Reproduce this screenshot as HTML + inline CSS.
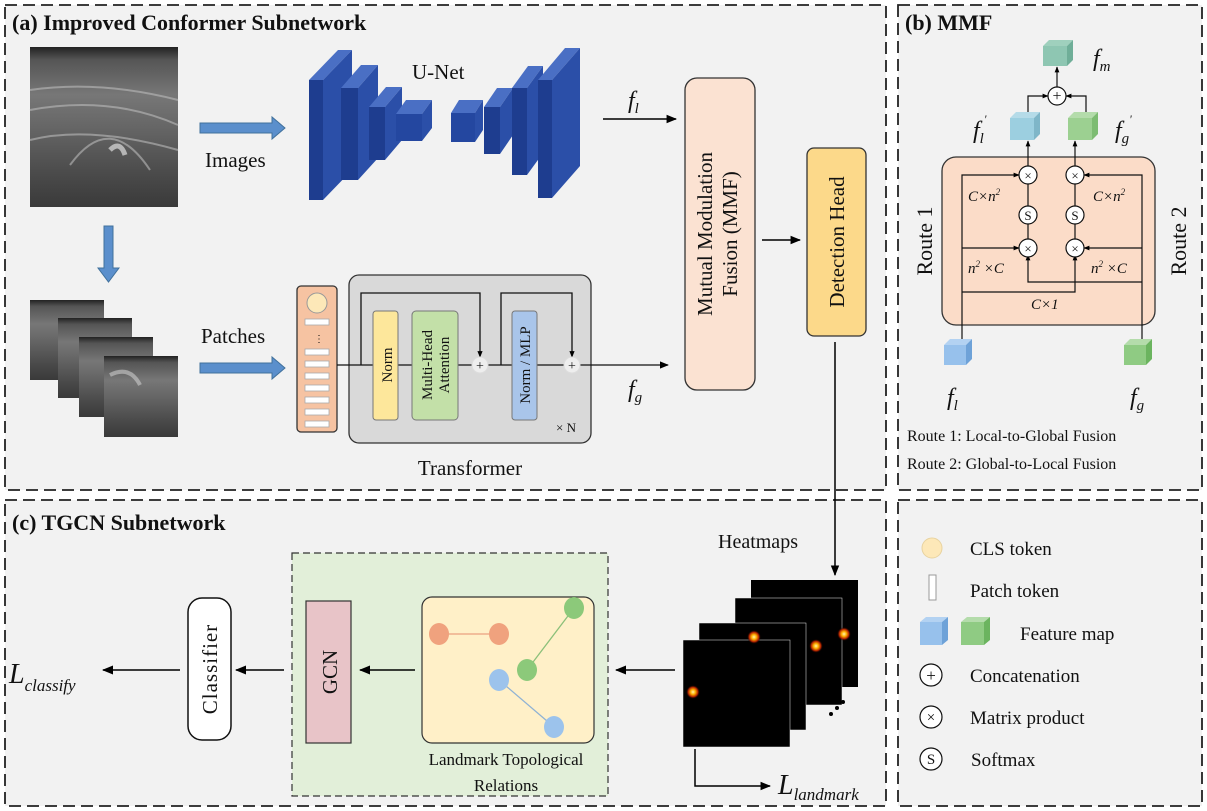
<!DOCTYPE html>
<html><head><meta charset="utf-8">
<style>
html,body{margin:0;padding:0;background:#fff;}
svg{display:block;}
text{font-family:"Liberation Serif",serif;fill:#111;}
.it{font-style:italic;}
</style></head>
<body>
<svg width="1207" height="811" viewBox="0 0 1207 811" xmlns="http://www.w3.org/2000/svg">
<defs>
<marker id="ah" viewBox="0 0 10 10" refX="9" refY="5" markerWidth="7" markerHeight="7" orient="auto-start-reverse"><path d="M0,1 L10,5 L0,9 z" fill="#000"/></marker>
<marker id="sa" viewBox="0 0 10 10" refX="9" refY="5" markerWidth="5" markerHeight="5" orient="auto"><path d="M0,1 L10,5 L0,9 z" fill="#000"/></marker>
<linearGradient id="us" x1="0" y1="0" x2="0" y2="1">
<stop offset="0" stop-color="#222"/><stop offset="0.08" stop-color="#555"/><stop offset="0.3" stop-color="#777"/><stop offset="0.5" stop-color="#666"/><stop offset="0.8" stop-color="#4a4a4a"/><stop offset="1" stop-color="#3a3a3a"/></linearGradient>
<radialGradient id="hot"><stop offset="0" stop-color="#fff6b0"/><stop offset="0.35" stop-color="#ffb000"/><stop offset="0.7" stop-color="#b02000"/><stop offset="1" stop-color="#000" stop-opacity="0"/></radialGradient>
</defs>

<g fill="#f2f2f2" stroke="#222" stroke-width="1.8" stroke-dasharray="12,6">
<rect x="5" y="5" width="881" height="485"/>
<rect x="898" y="5" width="304" height="485"/>
<rect x="5" y="500" width="881" height="306"/>
<rect x="898" y="500" width="304" height="306"/>
</g>

<text x="12" y="30" font-size="22" font-weight="bold">(a) Improved Conformer Subnetwork</text>
<text x="905" y="30" font-size="22" font-weight="bold">(b) MMF</text>
<text x="12" y="530" font-size="22" font-weight="bold">(c) TGCN Subnetwork</text>

<g>
<rect x="30" y="47" width="148" height="160" fill="url(#us)"/>
<path d="M30,90 Q100,80 178,100 M30,110 Q110,95 178,125 M30,140 Q90,125 178,150 M70,165 Q110,110 150,170" stroke="#bbb" stroke-width="2" fill="none" opacity="0.6"/>
<path d="M110,150 q10,-10 15,5" stroke="#ddd" stroke-width="5" fill="none" opacity="0.7"/>
</g>
<g>
<rect x="30" y="300" width="74" height="80" fill="url(#us)"/>
<rect x="58" y="318" width="74" height="80" fill="url(#us)"/>
<rect x="79" y="337" width="74" height="80" fill="url(#us)"/>
<rect x="104" y="356" width="74" height="81" fill="url(#us)"/>
<path d="M110,375 q20,-10 30,10" stroke="#ccc" stroke-width="4" fill="none" opacity="0.6"/>
</g>

<g fill="#5b8fcc" stroke="#41719c" stroke-width="1">
<path d="M200,123 L272,123 L272,117 L285,128 L272,139 L272,133 L200,133 z"/>
<path d="M200,363 L272,363 L272,357 L285,368 L272,379 L272,373 L200,373 z"/>
<path d="M104,226 L113,226 L113,268 L119,268 L108.5,282 L98,268 L104,268 z"/>
</g>
<text x="205" y="167" font-size="21">Images</text>
<text x="201" y="343" font-size="21">Patches</text>

<g stroke="none">
<polygon points="309,80 338,50 352,50 323,80" fill="#4a6fc4"/><polygon points="323,80 352,50 352,170 323,200" fill="#2b4fa8"/><rect x="309" y="80" width="14" height="120" fill="#1e3d8f"/>
<polygon points="341,88 361,65 378,65 358,88" fill="#4a6fc4"/><polygon points="358,88 378,65 378,158 358,180" fill="#2b4fa8"/><rect x="341" y="88" width="17" height="92" fill="#1e3d8f"/>
<polygon points="369,107 386,87 402,87 385,107" fill="#4a6fc4"/><polygon points="385,107 402,87 402,140 385,160" fill="#2b4fa8"/><rect x="369" y="107" width="16" height="53" fill="#1e3d8f"/>
<polygon points="396,114 406,100 432,100 422,114" fill="#4a6fc4"/><polygon points="422,114 432,100 432,128 422,141" fill="#2b4fa8"/><rect x="396" y="114" width="26" height="27" fill="#2447a0"/>
<polygon points="451,113 459,100 483,100 475,113" fill="#4a6fc4"/><polygon points="475,113 483,100 483,130 475,142" fill="#2b4fa8"/><rect x="451" y="113" width="24" height="29" fill="#2447a0"/>
<polygon points="484,107 497,88 513,88 500,107" fill="#4a6fc4"/><polygon points="500,107 513,88 513,135 500,154" fill="#2b4fa8"/><rect x="484" y="107" width="16" height="47" fill="#1e3d8f"/>
<polygon points="512,88 528,66 543,66 527,88" fill="#4a6fc4"/><polygon points="527,88 543,66 543,153 527,175" fill="#2b4fa8"/><rect x="512" y="88" width="15" height="87" fill="#1e3d8f"/>
<polygon points="538,80 565,48 580,48 552,80" fill="#4a6fc4"/><polygon points="552,80 580,48 580,166 552,198" fill="#2b4fa8"/><rect x="538" y="80" width="14" height="118" fill="#1e3d8f"/>
</g>
<text x="412" y="79" font-size="21">U-Net</text>

<rect x="297" y="286" width="40" height="146" rx="4" fill="#f6c3a2" stroke="#333" stroke-width="1.3"/>
<circle cx="317" cy="303" r="10" fill="#fde8b8" stroke="#999"/>
<text x="314" y="342" font-size="10">⋮</text>
<g fill="#fff" stroke="#aaa" stroke-width="0.8">
<rect x="305" y="319" width="24" height="6"/>
<rect x="305" y="349" width="24" height="6"/><rect x="305" y="361" width="24" height="6"/><rect x="305" y="373" width="24" height="6"/><rect x="305" y="385" width="24" height="6"/><rect x="305" y="397" width="24" height="6"/><rect x="305" y="409" width="24" height="6"/><rect x="305" y="421" width="24" height="6"/>
</g>

<rect x="349" y="275" width="242" height="168" rx="10" fill="#d9d9d9" stroke="#333" stroke-width="1.3"/>
<g stroke="#111" stroke-width="1.3" fill="none">
<line x1="337" y1="365" x2="473" y2="365"/>
<line x1="487" y1="365" x2="565" y2="365"/>
<line x1="579" y1="365" x2="668" y2="365" marker-end="url(#ah)"/>
<polyline points="361,365 361,293 480,293 480,357" marker-end="url(#sa)"/>
<polyline points="501,365 501,293 572,293 572,357" marker-end="url(#sa)"/>
</g>
<rect x="373" y="311" width="25" height="109" rx="3" fill="#fde79b" stroke="#777"/>
<rect x="412" y="311" width="46" height="109" rx="4" fill="#c3e0a8" stroke="#777"/>
<rect x="512" y="311" width="25" height="109" rx="3" fill="#a9c5ea" stroke="#777"/>
<circle cx="480" cy="365" r="8" fill="#eee" stroke="#ddd"/><text x="480" y="370" font-size="14" text-anchor="middle">+</text>
<circle cx="572" cy="365" r="8" fill="#eee" stroke="#ddd"/><text x="572" y="370" font-size="14" text-anchor="middle">+</text>
<text transform="translate(392,365) rotate(-90)" font-size="15" text-anchor="middle">Norm</text>
<text transform="translate(432,365) rotate(-90)" font-size="15" text-anchor="middle">Multi-Head</text>
<text transform="translate(449,365) rotate(-90)" font-size="15" text-anchor="middle">Attention</text>
<text transform="translate(530,365) rotate(-90)" font-size="15" text-anchor="middle">Norm / MLP</text>
<text x="556" y="432" font-size="13" fill="#333">× N</text>
<text x="470" y="475" font-size="21" text-anchor="middle">Transformer</text>

<line x1="603" y1="119" x2="676" y2="119" stroke="#000" stroke-width="1.5" marker-end="url(#ah)"/>
<text x="628" y="108" font-size="24" class="it">f<tspan font-size="15" dy="5">l</tspan></text>
<text x="628" y="397" font-size="24" class="it">f<tspan font-size="15" dy="5">g</tspan></text>

<rect x="685" y="78" width="70" height="312" rx="12" fill="#fbe2d2" stroke="#333" stroke-width="1.3"/>
<text transform="translate(712,234) rotate(-90)" font-size="21" text-anchor="middle">Mutual Modulation</text>
<text transform="translate(737,234) rotate(-90)" font-size="21" text-anchor="middle">Fusion (MMF)</text>
<line x1="762" y1="240" x2="800" y2="240" stroke="#000" stroke-width="1.5" marker-end="url(#ah)"/>
<rect x="807" y="148" width="59" height="188" rx="7" fill="#fcd98a" stroke="#333" stroke-width="1.3"/>
<text transform="translate(844,242) rotate(-90)" font-size="21" text-anchor="middle">Detection Head</text>
<line x1="835" y1="342" x2="835" y2="575" stroke="#000" stroke-width="1.5" marker-end="url(#ah)"/>

<rect x="942" y="157" width="213" height="168" rx="14" fill="#fbdcc8" stroke="#333" stroke-width="1.3"/>
<g stroke="#111" stroke-width="1.2" fill="none">
<polyline points="962,340 962,175 1019,175" marker-end="url(#sa)"/>
<line x1="962" y1="248" x2="1019" y2="248" marker-end="url(#sa)"/>
<polyline points="962,292 1075,292 1075,255" marker-end="url(#sa)"/>
<polyline points="1142,340 1142,175 1084,175" marker-end="url(#sa)"/>
<line x1="1142" y1="248" x2="1084" y2="248" marker-end="url(#sa)"/>
<polyline points="1142,282 1028,282 1028,255" marker-end="url(#sa)"/>
<line x1="1028" y1="183" x2="1028" y2="207"/><line x1="1028" y1="223" x2="1028" y2="240"/>
<line x1="1075" y1="183" x2="1075" y2="207"/><line x1="1075" y1="223" x2="1075" y2="240"/>
<line x1="1028" y1="167" x2="1028" y2="141" marker-end="url(#sa)"/>
<line x1="1075" y1="167" x2="1075" y2="141" marker-end="url(#sa)"/>
<polyline points="1028,112 1028,96 1048,96" marker-end="url(#sa)"/>
<polyline points="1086,112 1086,96 1066,96" marker-end="url(#sa)"/>
<line x1="1057" y1="87" x2="1057" y2="67" marker-end="url(#sa)"/>
</g>
<g fill="#fff" stroke="#111" stroke-width="1.2">
<circle cx="1028" cy="175" r="9"/><circle cx="1028" cy="215" r="9"/><circle cx="1028" cy="248" r="9"/>
<circle cx="1075" cy="175" r="9"/><circle cx="1075" cy="215" r="9"/><circle cx="1075" cy="248" r="9"/>
<circle cx="1057" cy="96" r="9"/>
</g>
<g font-size="13" text-anchor="middle">
<text x="1028" y="180">×</text><text x="1028" y="220">S</text><text x="1028" y="253">×</text>
<text x="1075" y="180">×</text><text x="1075" y="220">S</text><text x="1075" y="253">×</text>
<text x="1057" y="101" font-size="16">+</text>
</g>
<g font-size="15" class="it">
<text x="968" y="201">C×n<tspan font-size="9" dy="-6">2</tspan></text>
<text x="1093" y="201">C×n<tspan font-size="9" dy="-6">2</tspan></text>
<text x="968" y="273">n<tspan font-size="9" dy="-6">2</tspan><tspan dy="6"> ×C</tspan></text>
<text x="1091" y="273">n<tspan font-size="9" dy="-6">2</tspan><tspan dy="6"> ×C</tspan></text>
<text x="1031" y="309">C×1</text>
</g>
<text transform="translate(932,241) rotate(-90)" font-size="22" text-anchor="middle">Route 1</text>
<text transform="translate(1186,241) rotate(-90)" font-size="22" text-anchor="middle">Route 2</text>

<g>
<polygon points="1043,46 1049,40 1073,40 1067,46" fill="#9fd0bd"/><polygon points="1067,46 1073,40 1073,60 1067,66" fill="#6fae98"/><rect x="1043" y="46" width="24" height="20" fill="#8ec6b2"/>
<polygon points="1010,118 1016,112 1040,112 1034,118" fill="#b5dbe8"/><polygon points="1034,118 1040,112 1040,134 1034,140" fill="#7fb6c8"/><rect x="1010" y="118" width="24" height="22" fill="#9ccfe0"/>
<polygon points="1068,118 1074,112 1098,112 1092,118" fill="#b4dcab"/><polygon points="1092,118 1098,112 1098,134 1092,140" fill="#7dbc72"/><rect x="1068" y="118" width="24" height="22" fill="#9cd091"/>
<polygon points="944,345 950,339 972,339 966,345" fill="#b3d2f2"/><polygon points="966,345 972,339 972,359 966,365" fill="#6ea2d8"/><rect x="944" y="345" width="22" height="20" fill="#97c1ec"/>
<polygon points="1124,345 1130,339 1152,339 1146,345" fill="#b4dcab"/><polygon points="1146,345 1152,339 1152,359 1146,365" fill="#6bb45f"/><rect x="1124" y="345" width="22" height="20" fill="#8fcb83"/>
</g>
<g font-size="24" class="it">
<text x="1093" y="66">f<tspan font-size="15" dy="5">m</tspan></text>
<text x="973" y="138">f<tspan font-size="15" dy="5">l</tspan><tspan font-size="12" dy="-20">'</tspan></text>
<text x="1115" y="138">f<tspan font-size="15" dy="5">g</tspan><tspan font-size="12" dy="-20">'</tspan></text>
<text x="947" y="405">f<tspan font-size="15" dy="5">l</tspan></text>
<text x="1130" y="405">f<tspan font-size="15" dy="5">g</tspan></text>
</g>
<text x="907" y="441" font-size="16">Route 1: Local-to-Global Fusion</text>
<text x="907" y="469" font-size="16">Route 2: Global-to-Local Fusion</text>

<circle cx="932" cy="548" r="10" fill="#fde8b8" stroke="#e8d3a0"/>
<rect x="929" y="575" width="7" height="25" fill="#fff" stroke="#999"/>
<polygon points="920,622 926,617 948,617 942,622" fill="#b3d2f2"/><polygon points="942,622 948,617 948,640 942,645" fill="#6ea2d8"/><rect x="920" y="622" width="22" height="23" fill="#97c1ec"/>
<polygon points="961,622 967,617 990,617 984,622" fill="#b4dcab"/><polygon points="984,622 990,617 990,640 984,645" fill="#6bb45f"/><rect x="961" y="622" width="23" height="23" fill="#8fcb83"/>
<g fill="#fff" stroke="#111" stroke-width="1.2"><circle cx="931" cy="675" r="11"/><circle cx="931" cy="717" r="11"/><circle cx="931" cy="759" r="11"/></g>
<g font-size="15" text-anchor="middle"><text x="931" y="681" font-size="17">+</text><text x="931" y="722">×</text><text x="931" y="764">S</text></g>
<g font-size="19">
<text x="970" y="555">CLS token</text>
<text x="970" y="597">Patch token</text>
<text x="1020" y="640">Feature map</text>
<text x="970" y="682">Concatenation</text>
<text x="970" y="724">Matrix product</text>
<text x="971" y="766">Softmax</text>
</g>

<text x="718" y="548" font-size="20">Heatmaps</text>
<g>
<rect x="751" y="580" width="107" height="107" fill="#000"/>
<rect x="735" y="598" width="107" height="107" fill="#000" stroke="#f2f2f2" stroke-width="0.5"/>
<rect x="699" y="623" width="107" height="107" fill="#000" stroke="#f2f2f2" stroke-width="0.5"/>
<rect x="683" y="640" width="107" height="107" fill="#000" stroke="#f2f2f2" stroke-width="0.5"/>
<circle cx="844" cy="634" r="7" fill="url(#hot)"/>
<circle cx="816" cy="646" r="7" fill="url(#hot)"/>
<circle cx="754" cy="637" r="7" fill="url(#hot)"/>
<circle cx="693" cy="692" r="7" fill="url(#hot)"/>
<circle cx="831" cy="714" r="2" fill="#000"/><circle cx="837" cy="708" r="2" fill="#000"/><circle cx="843" cy="702" r="2" fill="#000"/>
</g>
<polyline points="695,749 695,786 770,786" fill="none" stroke="#000" stroke-width="1.5" marker-end="url(#ah)"/>
<text x="778" y="794" font-size="28" class="it">L<tspan font-size="17" dy="6">landmark</tspan></text>

<rect x="292" y="553" width="316" height="243" fill="#e2efd9" stroke="#333" stroke-width="1.2" stroke-dasharray="7,4"/>
<rect x="422" y="597" width="172" height="146" rx="10" fill="#fff0c8" stroke="#333" stroke-width="1.2"/>
<g stroke-width="1.3">
<line x1="439" y1="634" x2="499" y2="634" stroke="#e9a080"/>
<line x1="574" y1="608" x2="527" y2="670" stroke="#8cc07a"/>
<line x1="499" y1="680" x2="554" y2="727" stroke="#8fb2d4"/>
</g>
<g>
<ellipse cx="439" cy="634" rx="10" ry="11" fill="#f0a27e"/>
<ellipse cx="499" cy="634" rx="10" ry="11" fill="#f0a27e"/>
<ellipse cx="574" cy="608" rx="10" ry="11" fill="#8cc97a"/>
<ellipse cx="527" cy="670" rx="10" ry="11" fill="#8cc97a"/>
<ellipse cx="499" cy="680" rx="10" ry="11" fill="#9cc3ec"/>
<ellipse cx="554" cy="727" rx="10" ry="11" fill="#9cc3ec"/>
</g>
<text x="506" y="765" font-size="17" text-anchor="middle">Landmark Topological</text>
<text x="506" y="791" font-size="17" text-anchor="middle">Relations</text>
<rect x="306" y="601" width="45" height="142" fill="#e8c4c8" stroke="#333" stroke-width="1.2"/>
<text transform="translate(337,672) rotate(-90)" font-size="21" text-anchor="middle">GCN</text>
<rect x="188" y="598" width="43" height="142" rx="14" fill="#fff" stroke="#111" stroke-width="1.5"/>
<text transform="translate(217,669) rotate(-90)" font-size="21" text-anchor="middle" letter-spacing="1">Classifier</text>
<g stroke="#000" stroke-width="1.6">
<line x1="675" y1="670" x2="616" y2="670" marker-end="url(#ah)"/>
<line x1="415" y1="670" x2="360" y2="670" marker-end="url(#ah)"/>
<line x1="284" y1="670" x2="236" y2="670" marker-end="url(#ah)"/>
<line x1="180" y1="670" x2="103" y2="670" marker-end="url(#ah)"/>
</g>
<text x="9" y="683" font-size="28" class="it">L<tspan font-size="17" dy="8">classify</tspan></text>
</svg>
</body></html>
